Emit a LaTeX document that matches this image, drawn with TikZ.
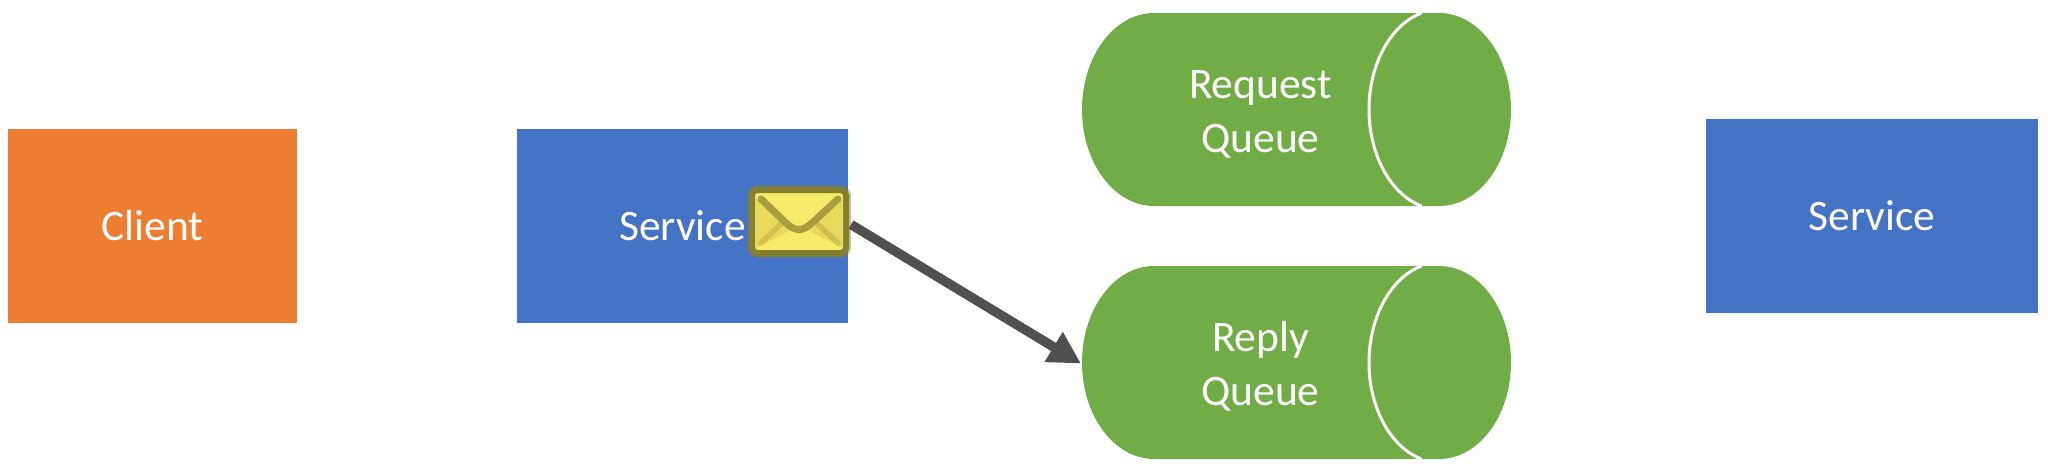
\documentclass[tikz,border=0pt]{standalone}
\usepackage{fontspec}
\setmainfont{Carlito}
\usetikzlibrary{arrows.meta,calc}
\definecolor{orangebox}{HTML}{ED7D31}
\definecolor{bluebox}{HTML}{4472C4}
\definecolor{greenq}{HTML}{70AD47}
\definecolor{arrowgrey}{HTML}{505050}
\definecolor{envfill}{HTML}{F6EA6A}
\definecolor{envside}{HTML}{E6D95E}
\definecolor{envedge}{HTML}{85802F}
\definecolor{envflap}{HTML}{A99D40}
\definecolor{envfold}{HTML}{CFC152}
\tikzset{
  lab/.style={text=white,font=\fontsize{43.5}{54}\selectfont,align=center,inner sep=0pt,outer sep=0pt},
  boxnode/.style={lab,minimum width=#1,minimum height=194pt},
  cylbody/.style={fill=greenq},
  cylrim/.style={draw=white,line width=3pt},
  flow/.style={draw=arrowgrey,line width=9.5pt,-{Triangle[length=32pt,width=33pt]}},
  envbody/.style={draw=envedge,fill=envfill,line width=6pt,rounded corners=5pt,inner sep=0pt,minimum width=94pt,minimum height=63pt},
  envglow/.style={draw=envedge,draw opacity=0.45,line width=10pt,rounded corners=6pt,inner sep=0pt,minimum width=94pt,minimum height=63pt},
}
\begin{document}
\begin{tikzpicture}[x=1pt,y=-1pt]
\useasboundingbox[fill=white] (0,0) rectangle (2048,469);
\node[boxnode=289pt,fill=orangebox] (client) at (152.5,226) {Client};
\node[boxnode=331pt,fill=bluebox] (service) at (682.5,226) {Service};
\node[boxnode=332pt,fill=bluebox] (service2) at (1872,215.5) {Service};
% request queue
\fill[cylbody] (1154,13) -- (1439,13) arc (-90:90:72 and 96.5) -- (1154,206) arc (90:270:72 and 96.5) -- cycle;
\draw[cylrim] (1440,109.5) ++(105:71 and 100) arc (105:255:71 and 100);
\node[lab] (reqlab) at (1260.5,113) {\vphantom{l}Request\\Queue};
% reply queue
\fill[cylbody] (1154,266) -- (1439,266) arc (-90:90:72 and 96.5) -- (1154,459) arc (90:270:72 and 96.5) -- cycle;
\draw[cylrim] (1440,362.5) ++(105:71 and 100) arc (105:255:71 and 100);
\node[lab] (replab) at (1260.5,366) {\vphantom{l}Reply\\Queue};
\coordinate (repwest) at (1081,363.5);
% envelope
\node[envglow] (envhalo) at (799,221.5) {};
\node[envbody] (env) at (799,221.5) {};
\fill[envside] (755,197) -- (795,228) -- (755,248) -- cycle;
\fill[envside] (843,197) -- (803,228) -- (843,248) -- cycle;
\draw[envfold,line width=5.5pt,line cap=round] (761,243) -- (783,222);
\draw[envfold,line width=5.5pt,line cap=round] (838,243) -- (815,222);
\draw[envflap,line width=7pt,line cap=round] (761,199) -- (785,222) .. controls (795,232) and (803,232) .. (813,222) -- (838,199);
\coordinate (flowstart) at (851,224.5);
\path[flow] (flowstart) -- (repwest);
\end{tikzpicture}
\end{document}
